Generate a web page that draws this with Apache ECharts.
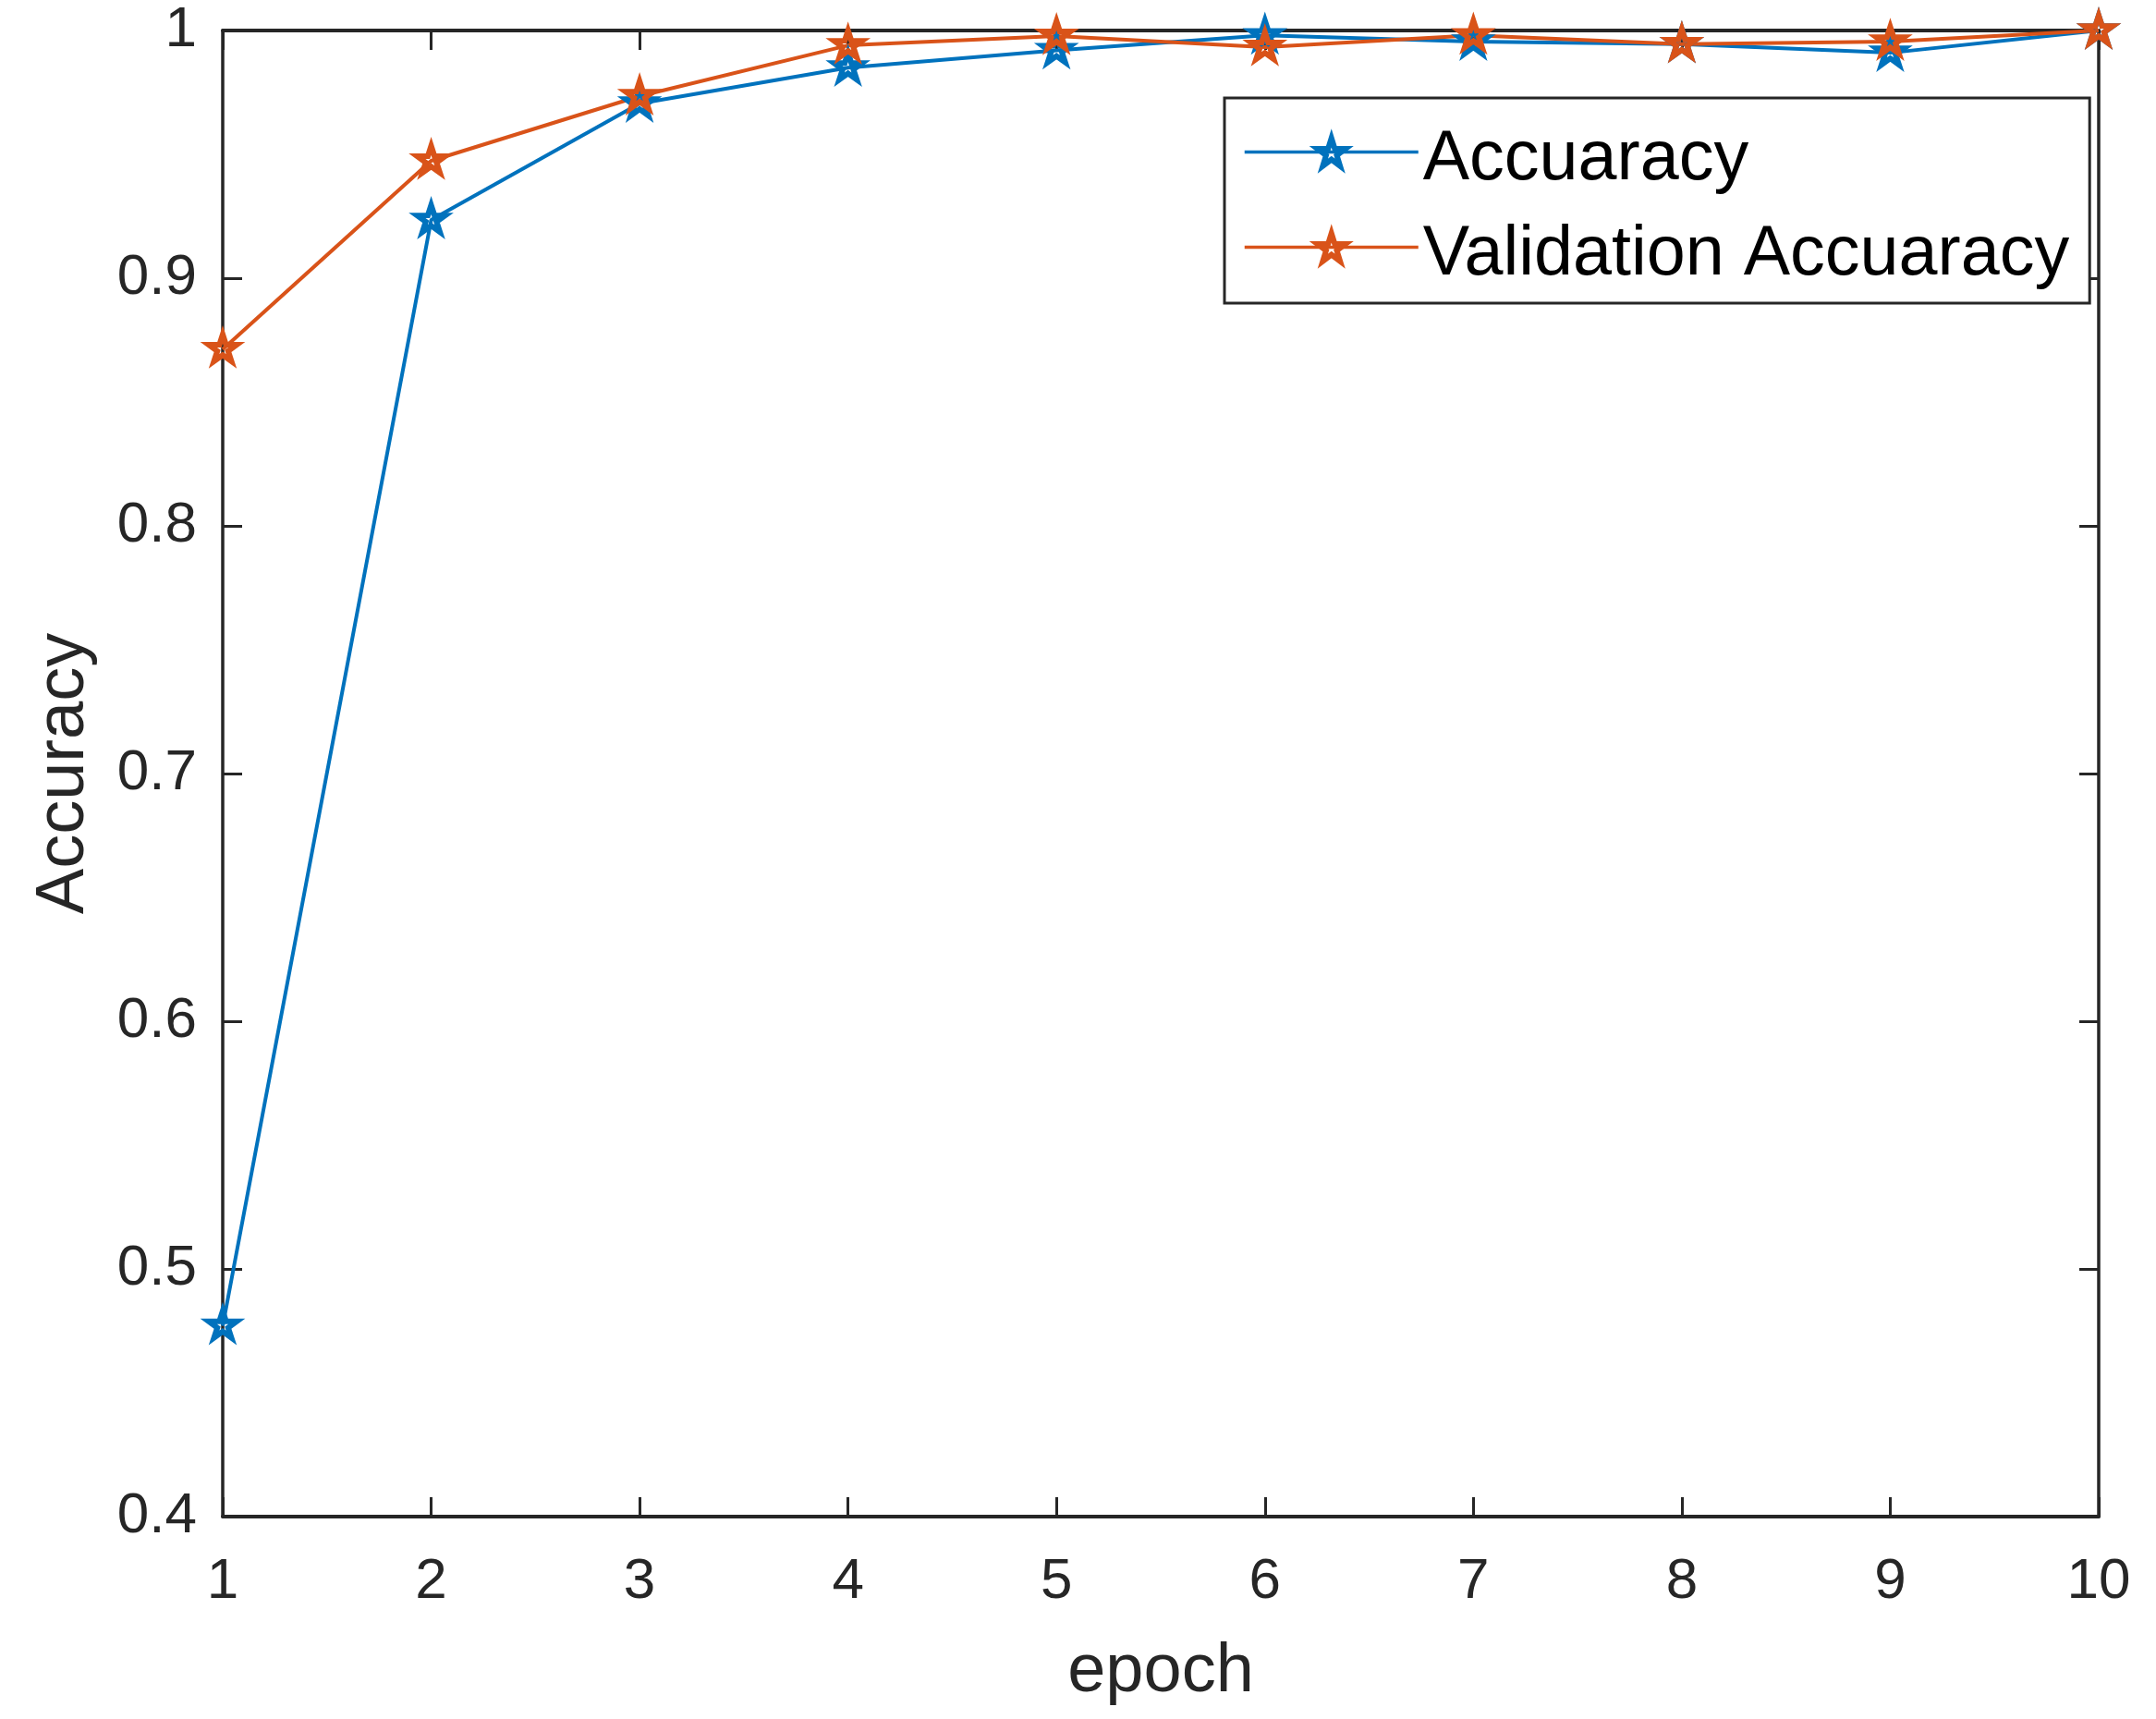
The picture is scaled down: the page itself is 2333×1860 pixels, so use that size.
<!DOCTYPE html>
<html>
<head>
<meta charset="utf-8">
<script src="https://cdn.jsdelivr.net/npm/echarts@6/dist/echarts.min.js"></script>
<style>
html,body{margin:0;padding:0;background:#fff;}
#chart{width:2333px;height:1860px;}
</style>
</head>
<body>
<div id="chart"></div>
<script>
const epochs = [1, 2, 3, 4, 5, 6, 7, 8, 9, 10];
const accuracy = [0.477, 0.9235, 0.9705, 0.985, 0.992, 0.998, 0.9955, 0.9945, 0.991, 1.0];
const valAccuracy = [0.8713, 0.9474, 0.9735, 0.994, 0.9978, 0.9933, 0.998, 0.9945, 0.9955, 1.0];
const yTickLabels = ['0.4', '0.5', '0.6', '0.7', '0.8', '0.9', '1'];
const xTickLabels = ['1', '2', '3', '4', '5', '6', '7', '8', '9', '10'];
const seriesNames = ['Accuaracy', 'Validation Accuaracy'];

const FONT = "'Liberation Sans', Arial, Helvetica, sans-serif";
const AX = '#262626';
const BLUE = '#0072BD';
const ORANGE = '#D95319';

// pentagram marker path
function starPath() {
  const R = 100, r = 38.2;
  let d = '';
  for (let k = 0; k < 10; k++) {
    const a = (-90 + k * 36) * Math.PI / 180;
    const rad = k % 2 === 0 ? R : r;
    d += (k === 0 ? 'M' : 'L') + (rad * Math.cos(a)).toFixed(2) + ' ' + (rad * Math.sin(a)).toFixed(2) + ' ';
  }
  return 'path://' + d + 'Z';
}
const STAR = starPath();

function pairs(vals) { return epochs.map((e, i) => [e, vals[i]]); }

function axisStyle(w) {
  return {
    axisLine: {show: true, lineStyle: {color: AX, width: w}},
    axisTick: {show: true, inside: true, length: 21, lineStyle: {color: AX, width: 3}},
    splitLine: {show: false}
  };
}

function mkSeries(name, vals, color) {
  return {
    name: name,
    type: 'line',
    data: pairs(vals),
    symbol: STAR,
    symbolSize: [30.5, 29],
    symbolOffset: [0, -1.5],
    clip: false,
    lineStyle: {color: color, width: 4},
    itemStyle: {color: 'none', borderColor: color, borderWidth: 6},
    emphasis: {disabled: true},
    animation: false
  };
}

const chart = echarts.init(document.getElementById('chart'), null, {renderer: 'canvas'});
chart.setOption({
  backgroundColor: '#fff',
  animation: false,
  grid: {left: 241, right: 62, top: 33, bottom: 219, containLabel: false},
  xAxis: [
    Object.assign({}, axisStyle(4), {
      type: 'value', position: 'bottom', min: 1, max: 10, interval: 1,
      name: 'epoch', nameLocation: 'middle', nameGap: 132,
      nameTextStyle: {fontFamily: FONT, fontSize: 74, color: AX},
      axisLabel: {
        show: true, margin: 40, fontFamily: FONT, fontSize: 62, color: AX,
        formatter: v => xTickLabels[epochs.indexOf(Math.round(v))] || ''
      }
    }),
    Object.assign({}, axisStyle(4), {
      type: 'value', position: 'top', min: 1, max: 10, interval: 1,
      axisLabel: {show: false}
    })
  ],
  yAxis: [
    Object.assign({}, axisStyle(3.5), {
      type: 'value', position: 'left', min: 0.4, max: 1, interval: 0.1,
      name: 'Accuracy', nameLocation: 'middle', nameGap: 134,
      nameTextStyle: {fontFamily: FONT, fontSize: 74, color: AX},
      axisLabel: {
        show: true, margin: 28, fontFamily: FONT, fontSize: 62, color: AX,
        formatter: v => yTickLabels[Math.round((v - 0.4) * 10)] || ''
      }
    }),
    Object.assign({}, axisStyle(3.5), {
      type: 'value', position: 'right', min: 0.4, max: 1, interval: 0.1,
      axisLabel: {show: false}
    })
  ],
  legend: {
    show: true,
    orient: 'vertical',
    left: 1325,
    top: 106,
    backgroundColor: '#fff',
    borderColor: AX,
    borderWidth: 3,
    borderRadius: 0,
    padding: [12, 22, 14, 20],
    itemGap: 10,
    itemWidth: 188,
    itemHeight: 38,
    itemTextGap: 23,
    itemStyle: {borderWidth: 6},
    lineStyle: {width: 3.5},
    formatter: name => '{t|' + name + '}',
    textStyle: {
      fontFamily: FONT, fontSize: 75.5, color: '#000', lineHeight: 74,
      rich: {t: {fontFamily: FONT, fontSize: 75.5, color: '#000', lineHeight: 74, padding: [17, 0, 0, 0]}}
    },
    data: seriesNames
  },
  series: [
    mkSeries(seriesNames[0], accuracy, BLUE),
    mkSeries(seriesNames[1], valAccuracy, ORANGE)
  ]
});
</script>
</body>
</html>
